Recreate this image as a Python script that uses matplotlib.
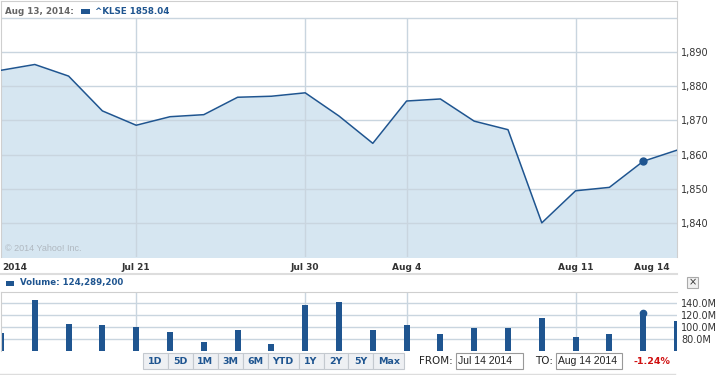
#!/usr/bin/env python3

# +
# import(s)
# -
import matplotlib as mpl
mpl.use('Agg')
import matplotlib.pyplot as plt
from matplotlib.lines import Line2D
from matplotlib.patches import Rectangle
from matplotlib.transforms import ScaledTranslation

# +
# data (KLSE, Jul 15 - Aug 14 2014, trading days only)
# -
dates = ['Jul 15', 'Jul 16', 'Jul 17', 'Jul 18', 'Jul 21', 'Jul 22', 'Jul 23',
         'Jul 24', 'Jul 25', 'Jul 30', 'Jul 31', 'Aug 1', 'Aug 4', 'Aug 5',
         'Aug 6', 'Aug 7', 'Aug 8', 'Aug 11', 'Aug 12', 'Aug 13', 'Aug 14']
close = [1884.7, 1886.4, 1883.0, 1872.8, 1868.6, 1871.1, 1871.7, 1876.8,
         1877.1, 1878.1, 1871.3, 1863.3, 1875.7, 1876.3, 1869.8, 1867.3,
         1840.0, 1849.4, 1850.4, 1858.04, 1861.3]
volume = [91.0e6, 145.5e6, 105.5e6, 103.8e6, 100.5e6, 92.2e6, 75.5e6,
          95.5e6, 72.2e6, 137.2e6, 142.2e6, 95.5e6, 103.8e6, 88.8e6,
          98.8e6, 98.8e6, 115.5e6, 83.8e6, 88.8e6, 124289200, 110.5e6]
tick_idx = [0, 4, 9, 12, 17, 20]
tick_labels = ['2014', 'Jul 21', 'Jul 30', 'Aug 4', 'Aug 11', 'Aug 14']
price_ticks = [1840, 1850, 1860, 1870, 1880, 1890]
vol_ticks = [80, 100, 120, 140]
ranges = ['1D', '5D', '1M', '3M', '6M', 'YTD', '1Y', '2Y', '5Y', 'Max']
sel = 19
from_date, to_date, change = 'Jul 14 2014', 'Aug 14 2014', '-1.24%'

# +
# style
# -
W, H = 723, 375
BLUE = '#1f5590'
FILL = '#d6e6f1'
GRID = '#c9d5df'
BORDER = '#cfcfcf'
TXT = '#333333'


def fx(px):
    return px / W


def fy(py):
    return 1.0 - py / H


fig = plt.figure(figsize=(W / 100, H / 100), dpi=100)
fig.patch.set_facecolor('white')

# +
# price panel
# -
x = list(range(len(close)))
ax = fig.add_axes([fx(1), fy(257), fx(677) - fx(1), fy(1) - fy(257)])
ax.set_xlim(0, len(close) - 1)
ax.set_ylim(1830, 1905)
ax.fill_between(x, close, 1820, color=FILL, lw=0, zorder=1)
for _v in price_ticks + [1900]:
    ax.axhline(_v, color=GRID, lw=1, zorder=2)
ax.vlines(tick_idx[1:-1], 1830, 1900, color=GRID, lw=1, zorder=2)
ax.plot(x, close, color=BLUE, lw=1.1, zorder=3)
ax.plot(sel, close[sel], 'o', color=BLUE, ms=5, zorder=4)

ax.set_yticks(price_ticks)
ax.set_yticklabels([f"{_v:,}" for _v in price_ticks])
ax.yaxis.tick_right()
ax.tick_params(axis='y', length=0, pad=3, labelsize=7, labelcolor=TXT)
ax.set_xticks(tick_idx)
ax.set_xticklabels(tick_labels, fontweight='bold')
ax.tick_params(axis='x', length=0, pad=4, labelsize=6.5, labelcolor=TXT)
_xl = ax.get_xticklabels()
_xl[0].set_ha('left')
_xl[0].set_transform(_xl[0].get_transform() + ScaledTranslation(1 / 100, 0, fig.dpi_scale_trans))
_xl[-1].set_ha('right')
_xl[-1].set_transform(_xl[-1].get_transform() + ScaledTranslation(-7 / 100, 0, fig.dpi_scale_trans))
for _s in ['top', 'left', 'right']:
    ax.spines[_s].set_color(BORDER)
ax.spines['bottom'].set_visible(False)
ax.text(0.006, 1831.2, '\u00a9 2014 Yahoo! Inc.', fontsize=6.5, color='#b0b8c0',
        family='Liberation Sans', va='bottom', transform=ax.get_yaxis_transform(), zorder=5)

# header legend
fig.text(fx(5), fy(11), f"{dates[sel]}, 2014:", fontsize=6.3,
         fontweight='bold', color='#666666', va='center')
fig.add_artist(Rectangle((fx(81), fy(13.5)), fx(9), 4.5 / H, color=BLUE, lw=0))
fig.text(fx(95), fy(11), f"^KLSE {close[sel]:.2f}", fontsize=6.3, fontweight='bold',
         color=BLUE, va='center')

# separator
fig.add_artist(Line2D([0, fx(677)], [fy(273.7), fy(273.7)], color='#dddddd', lw=1.5))

# +
# volume panel
# -
vx = fig.add_axes([fx(1), fy(350.7), fx(677) - fx(1), (350.7 - 291.7) / H])
vm = [_v / 1e6 for _v in volume]
vx.set_xlim(0, len(close) - 1)
vx.set_ylim(61, 159.3)
for _v in vol_ticks:
    vx.axhline(_v, color=GRID, lw=1, zorder=1)
vx.vlines(tick_idx[1:-1], 0, 200, color=GRID, lw=1, zorder=1)
vx.bar(x, vm, width=0.18, color=BLUE, zorder=2)
vx.plot(sel, vm[sel], 'o', color=BLUE, ms=4.5, zorder=3, clip_on=False)
vx.set_yticks(vol_ticks)
vx.set_yticklabels([f"{_v:.1f}M" for _v in vol_ticks])
vx.yaxis.tick_right()
vx.tick_params(axis='y', length=0, pad=3, labelsize=7, labelcolor=TXT)
vx.set_xticks([])
for _s in ['top', 'left']:
    vx.spines[_s].set_color(BORDER)
for _s in ['bottom', 'right']:
    vx.spines[_s].set_visible(False)

fig.add_artist(Rectangle((fx(6), fy(286)), fx(8), 5 / H, color=BLUE, lw=0))
fig.text(fx(20), fy(282.7), f"Volume: {volume[sel]:,}", fontsize=6.2, fontweight='bold',
         color=BLUE, va='center')

# close button
fig.add_artist(Rectangle((fx(687), fy(288)), fx(11), 11 / H, facecolor='#f0f0f0',
                         edgecolor='#aaaaaa', lw=0.8))
fig.text(fx(692.5), fy(282.5), '\u00d7', fontsize=7, color='#333333', ha='center', va='center')

# +
# range buttons and date boxes
# -
_bx = 143
for _r in ranges:
    _w = 12.5 + 6.2 * len(_r)
    fig.add_artist(Rectangle((fx(_bx), fy(369)), fx(_w), 16 / H, facecolor='#eef0f3',
                             edgecolor='#c4c9cf', lw=0.8))
    fig.text(fx(_bx + _w / 2), fy(361.5), _r, fontsize=6.8, fontweight='bold', color=BLUE,
             ha='center', va='center')
    _bx += _w

fig.text(fx(419), fy(361.5), 'FROM:', fontsize=7.5, color='#222222', va='center')
fig.add_artist(Rectangle((fx(456), fy(369)), fx(67), 16 / H, facecolor='white',
                         edgecolor='#999999', lw=0.8))
fig.text(fx(458), fy(361.5), from_date, fontsize=7.5, family='Liberation Sans',
         color='#222222', va='center')
fig.text(fx(535), fy(361.5), 'TO:', fontsize=7.5, color='#222222', va='center')
fig.add_artist(Rectangle((fx(556), fy(369)), fx(66), 16 / H, facecolor='white',
                         edgecolor='#999999', lw=0.8))
fig.text(fx(558), fy(361.5), to_date, fontsize=7.5, family='Liberation Sans',
         color='#222222', va='center')
fig.text(fx(634), fy(361.5), change, fontsize=6.8, fontweight='bold', color='#d01010',
         va='center')
fig.add_artist(Line2D([0, fx(675)], [fy(373.5), fy(373.5)], color='#dddddd', lw=1))

# +
# output(s)
# -
plt.savefig('out.png', format='png', dpi=100)
